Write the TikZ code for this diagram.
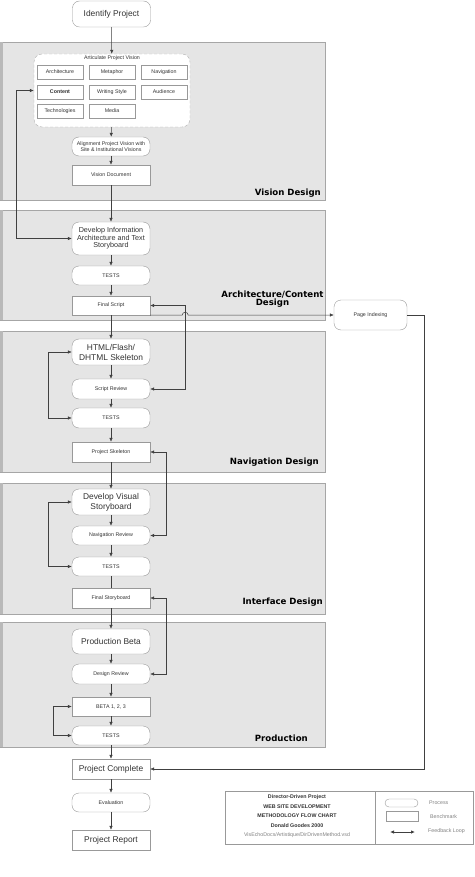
\documentclass[tikz,border=0pt]{standalone}
\usepackage{fontspec}
\setmainfont{Liberation Sans}
\newfontfamily\phasefont{DejaVu Sans}
\usetikzlibrary{arrows.meta, positioning}

\newcommand{\fsmall}{\fontsize{5.3}{6.2}\selectfont}
\newcommand{\fmid}{\fontsize{7.2}{7.5}\selectfont}
\newcommand{\fbig}{\fontsize{8.4}{10}\selectfont}

\begin{document}
\begin{tikzpicture}[
  x=1pt, y=-1pt,
  every node/.style={text=black!80},
  process/.style={draw=gray!80, fill=white, rounded corners=7pt, minimum width=78pt, align=center, inner sep=1pt, font=\fsmall},
  bench/.style={draw=gray!80, fill=white, rectangle, minimum width=78pt, align=center, inner sep=1pt, font=\fsmall},
  item/.style={draw=gray!80, fill=white, minimum width=46pt, minimum height=14pt, inner sep=0pt, font=\fsmall},
  panel/.style={fill=gray!20, draw=gray!70, line width=0.7pt},
  phase/.style={font={\phasefont\bfseries\fontsize{8.6}{6.3}\selectfont}, text=black, inner sep=0pt, align=center},
  link/.style={draw=black!75, line width=0.5pt},
  flow/.style={link, -{Latex[length=4pt, width=3.5pt]}},
  loop/.style={link, {Latex[length=4pt, width=3.5pt]}-{Latex[length=4pt, width=3.5pt]}}
]
\useasboundingbox (0,0) rectangle (474,877);

% Phase panels
\draw[panel] (0,42) rectangle (325,200);
\draw[panel] (0,210) rectangle (325,320);
\draw[panel] (0,331) rectangle (325,472);
\draw[panel] (0,483) rectangle (325,614);
\draw[panel] (0,622) rectangle (325,747);
\foreach \top/\bot in {42/200, 210/320, 331/472, 483/614, 622/747}
  \draw[gray!55, line width=2.5pt] (1.25,\top) -- (1.25,\bot);

\node[phase, anchor=base east] (lvision) at (321,195.5) {Vision Design};
\node[phase, anchor=south] (larch) at (272.5,308) {Architecture/Content\\Design};
\node[phase, anchor=base east] (lnav) at (319,464) {Navigation Design};
\node[phase, anchor=base east] (lintf) at (323,604.5) {Interface Design};
\node[phase, anchor=base east] (lprod) at (308,741) {Production};

% Start
\node[process, minimum height=26pt, font=\fbig] (ident) at (111.5,14) {Identify Project};

% Vision design
\node[draw=gray!60, densely dashed, fill=white, rounded corners=8pt, minimum width=156pt, minimum height=73pt] (artic) at (112,90.5) {};
\node[anchor=north, font=\fsmall, inner sep=2pt] (artitle) at (artic.north) {Articulate Project Vision};
\node[item] (architecture) at (60,72) {Architecture};
\node[item] (metaphor) at (112,72) {Metaphor};
\node[item] (navigation) at (164,72) {Navigation};
\node[item, font=\fsmall\bfseries] (content) at (60,92) {Content};
\node[item] (writing) at (112,92) {Writing Style};
\node[item] (audience) at (164,92) {Audience};
\node[item] (technologies) at (60,111) {Technologies};
\node[item] (media) at (112,111) {Media};

\node[process, minimum height=19pt] (align) at (111,146.5) {Alignment Project Vision with\\Site \& Institutional Visions};
\node[bench, minimum height=20pt] (vdoc) at (111,175) {Vision Document};

% Architecture/Content design
\node[process, minimum height=33pt, font=\fmid] (devinfo) at (111,238.5) {Develop Information\\Architecture and Text\\Storyboard};
\node[process, minimum height=19pt] (tests1) at (111,275.5) {TESTS};
\node[bench, minimum height=19pt] (fscript) at (111,305.5) {Final Script};
\node[process, minimum width=73pt, minimum height=30pt] (pindex) at (370.5,315) {Page Indexing};

% Navigation design
\node[process, minimum height=26pt, font=\fbig] (html) at (111,352) {HTML/Flash/\\DHTML Skeleton};
\node[process, minimum height=20pt] (sreview) at (111,389) {Script Review};
\node[process, minimum height=20pt] (tests2) at (111,418) {TESTS};
\node[bench, minimum height=20pt] (pskel) at (111,452) {Project Skeleton};

% Interface design
\node[process, minimum height=26pt, font=\fbig] (devvis) at (111,502) {Develop Visual\\Storyboard};
\node[process, minimum height=19pt] (nreview) at (111,535.5) {Navigation Review};
\node[process, minimum height=19pt] (tests3) at (111,566.5) {TESTS};
\node[bench, minimum height=20pt] (fstory) at (111,598) {Final Storyboard};

% Production
\node[process, minimum height=25pt, font=\fbig] (prodbeta) at (111,641.5) {Production Beta};
\node[process, minimum height=20pt] (dreview) at (111,674) {Design Review};
\node[bench, minimum height=19pt] (beta) at (111,706.5) {BETA 1, 2, 3};
\node[process, minimum height=19pt] (tests4) at (111,735.5) {TESTS};

% Wrap-up
\node[bench, minimum height=20pt, font=\fbig] (pcomp) at (111,769) {Project Complete};
\node[process, minimum height=19pt] (eval) at (111,802.5) {Evaluation};
\node[bench, minimum height=20pt, font=\fbig] (preport) at (111,840) {Project Report};

% Main flow
\draw[flow] (ident) -- (artic);
\draw[flow] (artic) -- (align);
\draw[flow] (align) -- (vdoc);
\draw[flow] (vdoc) -- (devinfo);
\draw[flow] (devinfo) -- (tests1);
\draw[flow] (tests1) -- (fscript);
\draw[flow] (fscript) -- (html);
\draw[flow] (html) -- (sreview);
\draw[flow] (sreview) -- (tests2);
\draw[flow] (tests2) -- (pskel);
\draw[flow] (pskel) -- (devvis);
\draw[flow] (devvis) -- (nreview);
\draw[flow] (nreview) -- (tests3);
\draw[link] (tests3) -- (fstory);
\draw[flow] (fstory) -- (prodbeta);
\draw[flow] (prodbeta) -- (dreview);
\draw[flow] (dreview) -- (beta);
\draw[flow] (beta) -- (tests4);
\draw[flow] (tests4) -- (pcomp);
\draw[flow] (pcomp) -- (eval);
\draw[flow] (eval) -- (preport);

% Page indexing branch
\draw[flow] (fscript.south east) -- ++(32,0) arc[start angle=180, end angle=360, radius=3] -- (pindex.west);
\draw[flow] (pindex.east) -- ++(17,0) |- (pcomp.east);

% Feedback loops
\draw[loop] (artic.west) -- ++(-18,0) |- (devinfo.west);
\draw[loop] (fscript.east) -- ++(35,0) |- (sreview.east);
\draw[loop] (html.west) -- ++(-24,0) |- (tests2.west);
\draw[loop] (pskel.east) -- ++(16,0) |- (nreview.east);
\draw[loop] (devvis.west) -- ++(-24,0) |- (tests3.west);
\draw[loop] (fstory.east) -- ++(16,0) |- (dreview.east);
\draw[loop] (beta.west) -- ++(-19,0) |- (tests4.west);

% Legend
\node[draw=gray!80, minimum width=248.5pt, minimum height=53pt, inner sep=0pt] (legend) at (349.25,817.5) {};
\draw[gray!80] (375,791) -- (375,844);
\node[align=center, font={\fontsize{5.3}{9.5}\selectfont}] (ltitle) at (297,816.5)
  {{\bfseries Director-Driven Project}\\{\bfseries WEB SITE DEVELOPMENT}\\{\bfseries METHODOLOGY FLOW CHART}\\{\bfseries Donald Goodes 2000}\\{\color{gray}VisEchoDocs/Artistique/DirDrivenMethod.vsd}};
\node[draw=gray!80, rounded corners=4pt, minimum width=33pt, minimum height=8pt, inner sep=0pt] (lproc) at (401.5,803) {};
\node[anchor=west, font=\fsmall, text=gray, inner sep=0pt] (lproctext) at (429,803) {Process};
\node[draw=gray!80, minimum width=32pt, minimum height=10pt, inner sep=0pt] (lbench) at (402,816) {};
\node[anchor=west, font=\fsmall, text=gray, inner sep=0pt] (lbenchtext) at (430,817) {Benchmark};
\coordinate (lfa) at (390,832);
\coordinate (lfb) at (415,832);
\draw[loop, line width=0.8pt] (lfa) -- (lfb);
\node[anchor=west, font=\fsmall, text=gray, inner sep=0pt] (lfbtext) at (428,831) {Feedback Loop};

\end{tikzpicture}
\end{document}
